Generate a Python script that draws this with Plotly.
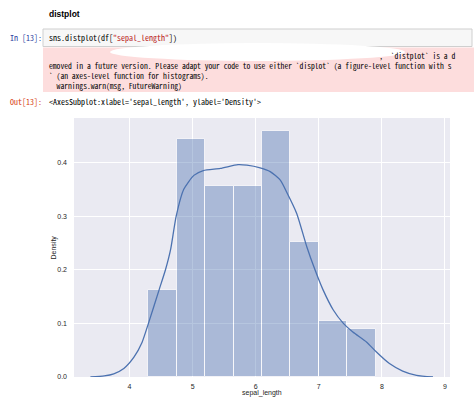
import plotly.graph_objects as go

# ---- data ----
bin_edges = [4.3, 4.75, 5.2, 5.65, 6.1, 6.55, 7.0, 7.45, 7.9]
densities = [0.163, 0.444, 0.356, 0.356, 0.459, 0.252, 0.104, 0.089]

kde_x = [3.38, 3.6, 3.75, 3.91, 4.07, 4.2, 4.30, 4.47, 4.57, 4.65, 4.74, 4.86, 5.02, 5.17,
         5.44, 5.72, 5.86, 6.07, 6.23, 6.39, 6.49, 6.65, 6.81, 6.94, 7.07, 7.23, 7.39, 7.54,
         7.76, 7.91, 8.12, 8.33, 8.55, 8.81]
kde_y = [0.0, 0.002, 0.006, 0.016, 0.037, 0.065, 0.10, 0.163, 0.2, 0.237, 0.3, 0.35, 0.376, 0.385,
         0.389, 0.396, 0.395, 0.390, 0.383, 0.367, 0.345, 0.305, 0.243, 0.20, 0.162, 0.125, 0.10, 0.084,
         0.065, 0.047, 0.025, 0.011, 0.003, 0.0]

x_ticks = [4, 5, 6, 7, 8, 9]
y_ticks = [0.0, 0.1, 0.2, 0.3, 0.4]

# ---- layout geometry ----
W, H = 474, 401
L, R, T, B = 74, 450, 118, 377


def px(x):
    return (x - L) / (R - L)


def py(y):
    return (B - y) / (B - T)


centers = [(a + b) / 2 for a, b in zip(bin_edges[:-1], bin_edges[1:])]
widths = [b - a for a, b in zip(bin_edges[:-1], bin_edges[1:])]

fig = go.Figure()
fig.add_trace(go.Bar(
    x=centers, y=densities, width=widths,
    marker=dict(color="#4C72B0", opacity=0.4, line=dict(color="white", width=1)),
    showlegend=False, hoverinfo="skip",
))
fig.add_trace(go.Scatter(
    x=kde_x, y=kde_y, mode="lines",
    line=dict(color="#4C72B0", width=1.3, shape="spline", smoothing=0.6),
    showlegend=False, hoverinfo="skip",
))

mono = "Noto Sans Mono CJK KR, Liberation Mono, monospace"
sans = "Liberation Sans, Arial, sans-serif"

shapes = [
    # code cell
    dict(type="rect", xref="paper", yref="paper", x0=px(43), x1=px(472), y0=py(29), y1=py(46.5),
         fillcolor="#f7f7f7", line=dict(color="#cfcfcf", width=1), layer="above"),
    # stderr area
    dict(type="rect", xref="paper", yref="paper", x0=px(43), x1=px(476), y0=py(47.5), y1=py(92),
         fillcolor="#fddddd", line=dict(width=0), layer="above"),
    # redaction blob
    dict(type="circle", xref="paper", yref="paper", x0=px(110), x1=px(405), y0=py(43), y1=py(61),
         fillcolor="white", line=dict(width=0), layer="above"),
]

pad = "&nbsp;" * 87
stderr_text = (
    pad + ",&nbsp;&nbsp;`distplot` is a d<br>"
    "emoved in a future version. Please adapt your code to use either `displot` "
    "(a figure-level function with s<br>"
    "` (an axes-level function for histograms).<br>"
    "&nbsp;&nbsp;warnings.warn(msg, FutureWarning)"
)

annotations = [
    dict(text="<b>distplot</b>", x=px(47), y=py(14), xanchor="left", yanchor="middle",
         font=dict(family=sans, size=8.5, color="#000")),
    dict(text="In [13]:", x=px(8), y=py(37.5), xanchor="left", yanchor="middle",
         font=dict(family=mono, size=8, color="#303F9F")),
    dict(text='sns.distplot(df[<span style="color:#BA2121">"sepal_length"</span>])',
         x=px(47), y=py(37.5), xanchor="left", yanchor="middle",
         font=dict(family=mono, size=8, color="#000")),
    dict(text=stderr_text, x=px(47), y=py(47.5), xanchor="left", yanchor="top", align="left",
         font=dict(family=mono, size=7.6, color="#000")),
    dict(text="Out[13]:", x=px(8), y=py(101.5), xanchor="left", yanchor="middle",
         font=dict(family=mono, size=8, color="#D84315")),
    dict(text="&lt;AxesSubplot:xlabel='sepal_length', ylabel='Density'&gt;", x=px(47), y=py(101.5),
         xanchor="left", yanchor="middle", font=dict(family=mono, size=8, color="#000")),
    # axis titles
    dict(text="sepal_length", x=0.5, y=py(393), xanchor="center", yanchor="middle",
         font=dict(family=sans, size=7, color="#262626")),
    dict(text="Density", x=px(53), y=0.5, xanchor="center", yanchor="middle", textangle=-90,
         font=dict(family=sans, size=7, color="#262626")),
]
for a in annotations:
    a.update(xref="paper", yref="paper", showarrow=False)

fig.update_layout(
    width=W, height=H,
    margin=dict(l=L, r=W - R, t=T, b=H - B, autoexpand=False),
    paper_bgcolor="white", plot_bgcolor="#EAEAF2",
    bargap=0, barmode="overlay",
    shapes=shapes, annotations=annotations,
    xaxis=dict(range=[3.12, 9.08], tickvals=x_ticks, ticktext=[str(v) for v in x_ticks],
               showgrid=True, gridcolor="white", gridwidth=1, zeroline=False, showline=False,
               ticks="", ticklabelstandoff=4,
               tickfont=dict(family=sans, size=7, color="#262626")),
    yaxis=dict(range=[0, 0.483], tickvals=y_ticks, ticktext=[f"{v:.1f}" for v in y_ticks],
               showgrid=True, gridcolor="white", gridwidth=1, zeroline=False, showline=False,
               ticks="", ticklabelstandoff=6,
               tickfont=dict(family=sans, size=7, color="#262626")),
)

fig.write_html("out.html", config={"displayModeBar": False},
               post_script="document.body.style.margin='0';")
